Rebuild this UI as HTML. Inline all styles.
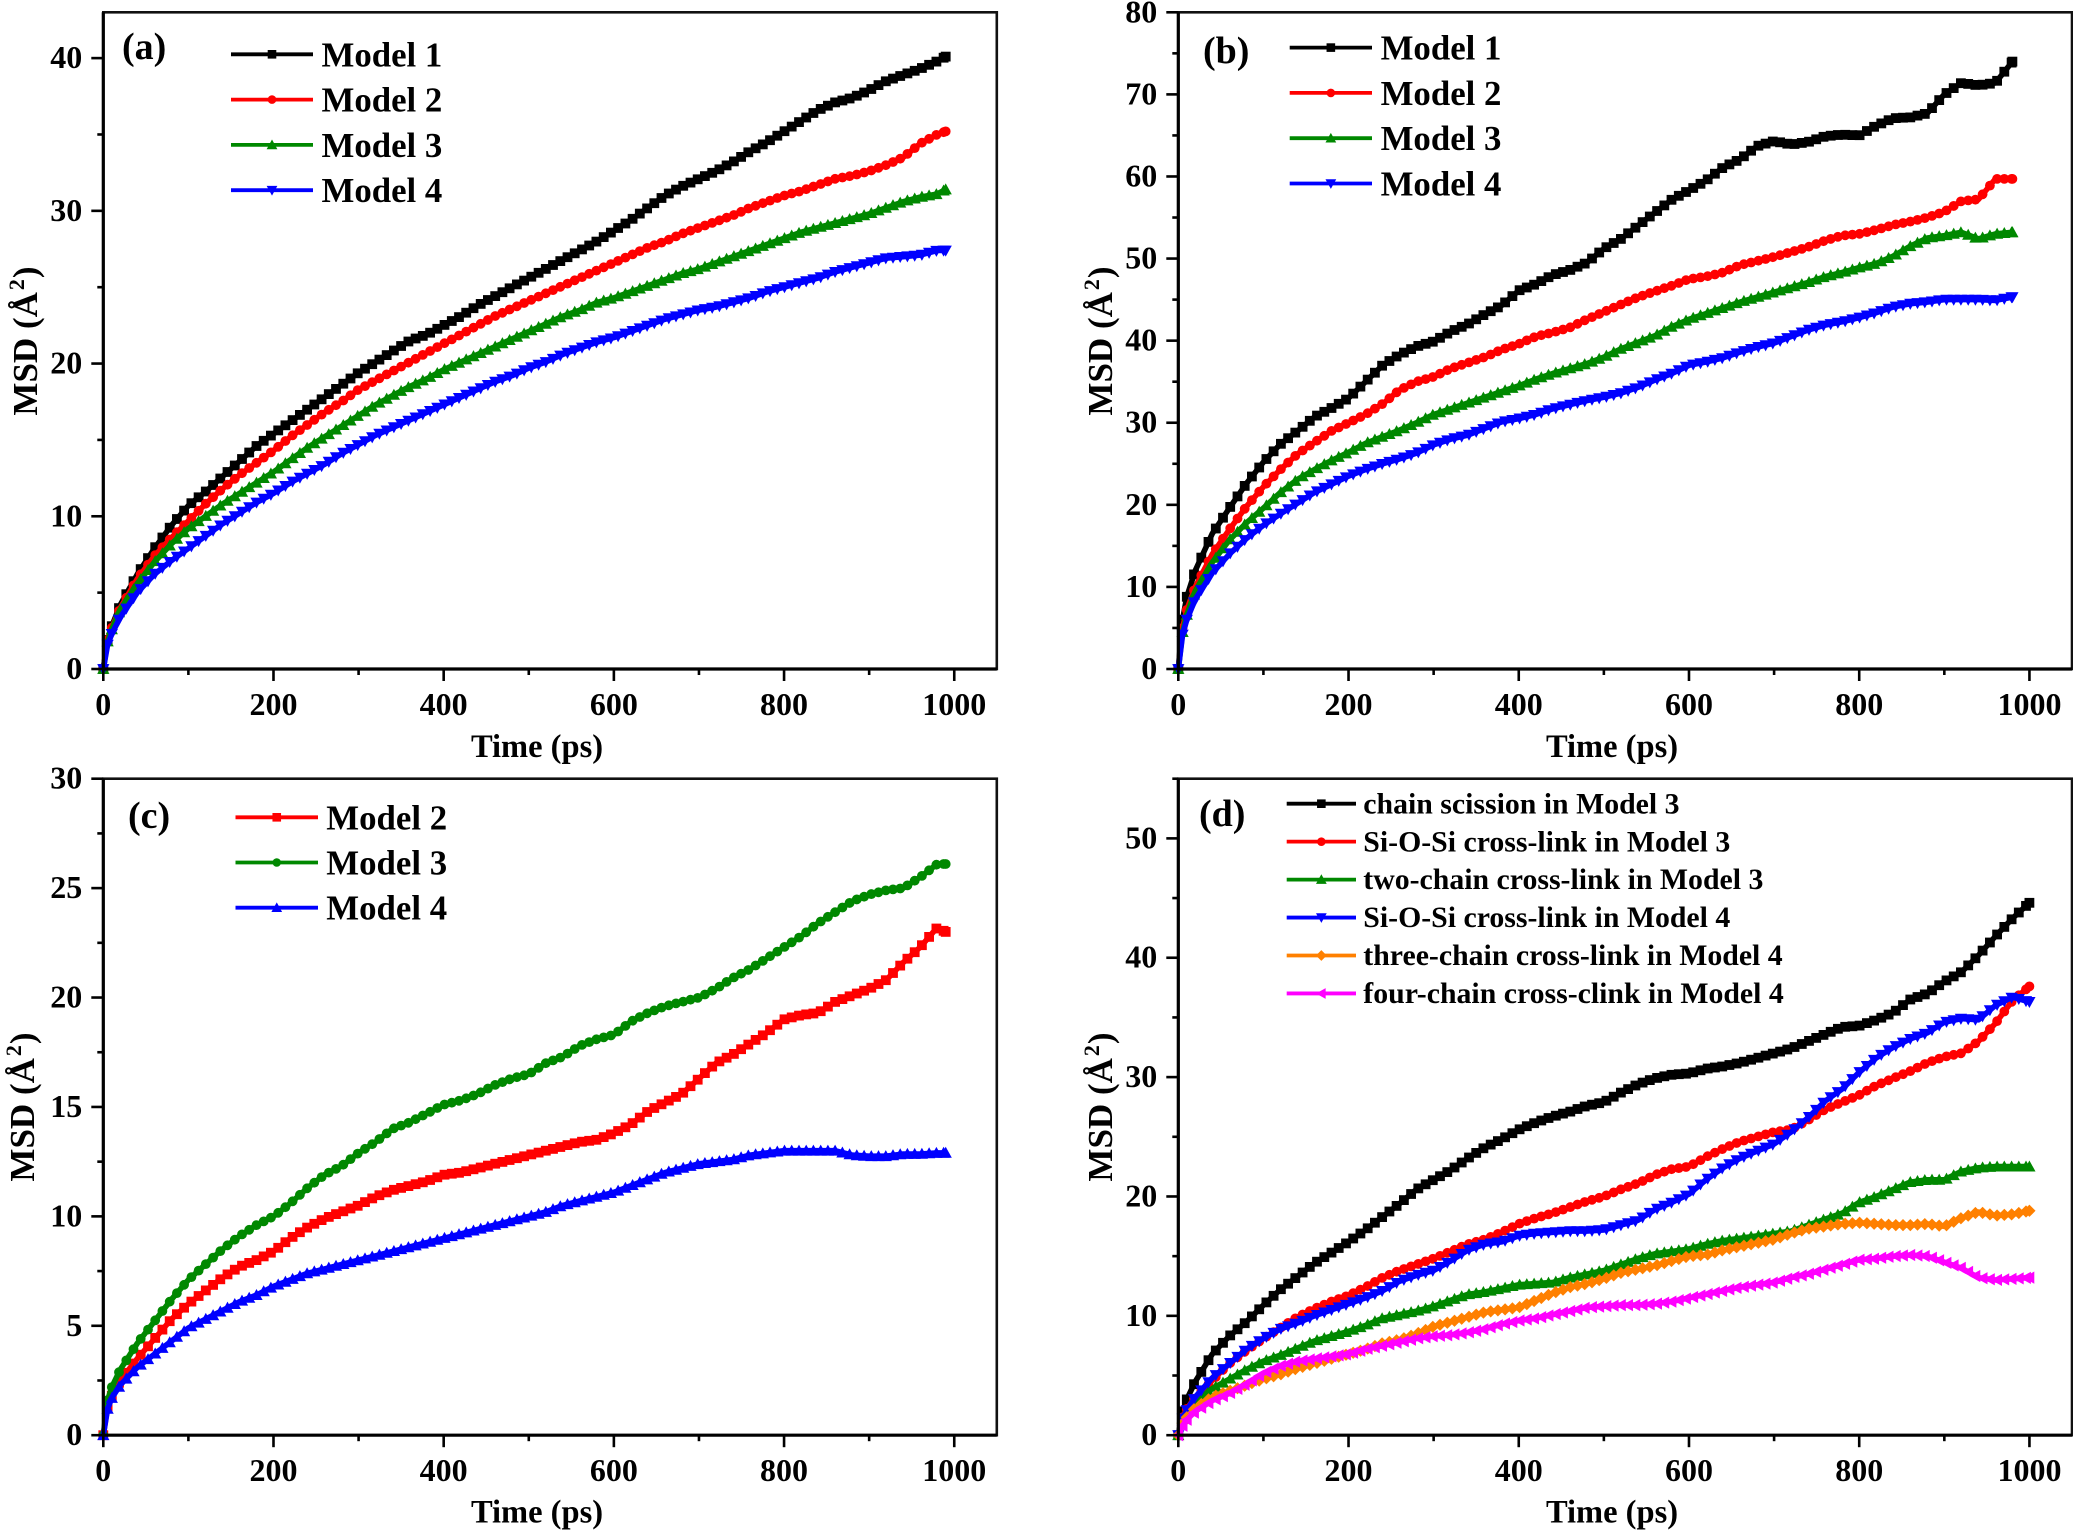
<!DOCTYPE html>
<html lang="en">
<head>
<meta charset="utf-8">
<title>MSD versus time for Models 1-4</title>
<style>
html,body{margin:0;padding:0;background:#fff;}
svg{display:block;}
text{font-family:"Liberation Serif",serif;font-weight:bold;fill:#000;}
</style>
</head>
<body>
<svg id="figure" xmlns="http://www.w3.org/2000/svg" width="2073" height="1531" viewBox="0 0 2073 1531"></svg>
<script>
// ---------- categories (time in ps) ----------
const timesA = [0,5,10,20,40,60,80,100,120,140,160,180,200,220,240,260,280,300,320,340,360,380,400,420,440,460,480,500,520,540,560,580,600,620,640,660,680,700,720,740,760,780,800,820,840,860,880,900,920,940,960,980,990];
const timesB = [0,5,10,20,40,60,80,100,120,140,160,180,200,220,240,260,280,300,320,340,360,380,400,420,440,460,480,500,520,540,560,580,600,620,640,660,680,700,720,740,760,780,800,820,840,860,880,900,920,940,960,980];
const timesC = [0,5,10,20,40,60,80,100,120,140,160,180,200,220,240,260,280,300,320,340,360,380,400,420,440,460,480,500,520,540,560,580,600,620,640,660,680,700,720,740,760,780,800,820,840,860,880,900,920,940,960,980,990];
const timesD = [0,5,10,20,40,60,80,100,120,140,160,180,200,220,240,260,280,300,320,340,360,380,400,420,440,460,480,500,520,540,560,580,600,620,640,660,680,700,720,740,760,780,800,820,840,860,880,900,920,940,960,980,1000];

// ---------- panel (a) series ----------
const a1 = [0,1.9,2.8,4.2,6.2,7.9,9.4,10.7,11.6,12.6,13.6,14.6,15.4,16.2,17,17.8,18.6,19.4,20.1,20.8,21.5,21.9,22.5,23.1,23.8,24.4,25,25.6,26.2,26.8,27.4,28,28.7,29.4,30.2,31,31.6,32.1,32.6,33.2,33.9,34.5,35.2,35.9,36.6,37.1,37.4,37.9,38.5,38.9,39.3,39.8,40.1];
const a2 = [0,1.9,2.7,4,5.9,7.4,8.6,9.7,10.8,11.8,12.7,13.5,14.3,15.2,16,16.8,17.5,18.3,18.9,19.5,20.1,20.7,21.3,21.9,22.5,23.1,23.6,24.1,24.6,25.1,25.6,26.1,26.6,27.1,27.6,28,28.5,28.9,29.3,29.7,30.2,30.6,31,31.3,31.7,32.1,32.3,32.6,33,33.5,34.4,35,35.2];
const a3 = [0,1.8,2.6,3.9,5.6,7,8.2,9.2,10,10.8,11.5,12.2,12.9,13.7,14.5,15.2,15.9,16.6,17.3,17.9,18.5,19,19.6,20.1,20.6,21.1,21.6,22.1,22.6,23.1,23.5,24,24.3,24.7,25.1,25.5,25.9,26.2,26.6,27,27.4,27.8,28.2,28.6,28.9,29.2,29.5,29.8,30.2,30.6,30.9,31.1,31.4];
const a4 = [0,1.6,2.3,3.4,5,6.2,7.1,7.9,8.7,9.5,10.2,10.9,11.5,12.2,12.8,13.4,14.1,14.7,15.3,15.8,16.3,16.8,17.3,17.8,18.3,18.8,19.2,19.7,20.1,20.6,21,21.4,21.7,22.1,22.5,22.9,23.2,23.5,23.7,24,24.3,24.7,25,25.3,25.6,26,26.3,26.6,26.9,27,27.1,27.4,27.4];

// ---------- panel (b) series ----------
const b1 = [0,6,8.8,12,16.5,19.6,22.6,25.2,27.4,29,30.7,31.8,33,35,37,38.3,39.3,39.9,41.1,42,43.2,44.3,46.1,46.9,48,48.6,49.5,51.2,52.4,54,55.6,57.2,58.3,59.5,61.1,62.1,63.7,64.3,63.9,64.2,64.9,65.1,65,66.2,67.1,67.2,67.7,70,71.4,71.1,71.4,74];
const b2 = [0,5,7.2,10,14,17,19.8,22.2,24.3,26.2,27.6,29,30,31,32.3,34,35,35.6,36.6,37.3,38,38.9,39.6,40.5,41,41.6,42.6,43.5,44.4,45.3,46,46.7,47.5,47.8,48.3,49.2,49.7,50.2,50.8,51.4,52.2,52.8,53,53.5,54.1,54.5,55,55.7,57,57.2,59.7,59.7];
const b3 = [0,4.5,6.6,9.5,13,15.7,17.8,19.6,21.5,23.1,24.3,25.4,26.4,27.5,28.3,29.1,30,31,31.7,32.4,33.1,33.8,34.5,35.3,36,36.6,37.2,38,39,39.8,40.6,41.7,42.6,43.3,44,44.7,45.3,45.9,46.5,47.1,47.8,48.3,48.9,49.4,50.3,51.5,52.5,52.8,53.2,52.4,53,53.2];
const b4 = [0,4.2,6,8.5,11.7,14,15.9,17.5,18.9,20.2,21.5,22.5,23.5,24.3,25,25.6,26.3,27.3,28,28.5,29.3,30.1,30.5,31,31.7,32.2,32.7,33.1,33.6,34.3,35.2,36,37,37.4,37.9,38.6,39.2,39.7,40.5,41.3,41.9,42.3,42.8,43.4,44.1,44.5,44.7,45,45,45,44.9,45.3];

// ---------- panel (c) series ----------
const c2 = [0,1.3,1.8,2.5,3.5,4.4,5.3,6,6.6,7.2,7.7,8,8.4,9,9.5,9.9,10.2,10.5,10.9,11.2,11.4,11.6,11.9,12,12.2,12.4,12.6,12.8,13,13.2,13.4,13.5,13.8,14.2,14.8,15.2,15.6,16.3,17,17.4,17.9,18.4,19,19.2,19.3,19.8,20.1,20.4,20.8,21.6,22.3,23.2,23];
const c3 = [0,1.6,2.2,3,4.2,5.2,6.2,7.1,7.8,8.5,9.1,9.6,10,10.6,11.3,11.9,12.3,12.9,13.4,14,14.3,14.7,15.1,15.3,15.6,16,16.3,16.5,17,17.3,17.8,18.1,18.3,18.9,19.3,19.6,19.8,20,20.4,20.9,21.3,21.8,22.3,22.8,23.4,23.9,24.4,24.7,24.9,25,25.5,26.1,26.1];
const c4 = [0,1.2,1.7,2.3,3.1,3.7,4.3,4.9,5.3,5.7,6.1,6.4,6.8,7.1,7.4,7.6,7.8,8,8.2,8.4,8.6,8.8,9,9.2,9.4,9.6,9.8,10,10.2,10.5,10.7,10.9,11.1,11.4,11.7,12,12.2,12.4,12.5,12.6,12.8,12.9,13,13,13,13,12.8,12.75,12.75,12.85,12.85,12.9,12.9];

// ---------- panel (d) series ----------
const d1 = [0,2,3,4.5,6.8,8.3,9.5,10.9,12.2,13.3,14.4,15.3,16.2,17.2,18.3,19.4,20.6,21.4,22.2,23.2,24.1,24.8,25.6,26.2,26.7,27.1,27.6,27.9,28.7,29.4,29.9,30.2,30.3,30.7,30.9,31.2,31.6,32,32.4,33,33.6,34.2,34.3,34.8,35.4,36.5,37,38,38.8,40.2,41.8,43.3,44.6];
const d2 = [0,1.5,2.2,3.2,4.6,6,7.1,8.1,9,9.9,10.6,11.2,11.7,12.4,13.2,13.8,14.3,14.8,15.4,16,16.4,17,17.7,18.2,18.6,19.1,19.6,20,20.6,21.1,21.8,22.3,22.5,23.3,24,24.6,25,25.4,25.6,26.4,27.3,27.9,28.5,29.3,29.9,30.5,31.2,31.7,32,33,34.5,36.4,37.6];
const d3 = [0,1.4,2,2.8,3.9,4.7,5.5,6.2,6.7,7.3,7.9,8.3,8.7,9.2,9.8,10.1,10.4,10.8,11.3,11.8,12,12.3,12.6,12.7,12.8,13.2,13.5,13.8,14.3,14.8,15.2,15.4,15.6,16,16.3,16.5,16.7,16.9,17.1,17.6,18.1,18.6,19.5,20,20.6,21.2,21.4,21.4,22.1,22.4,22.5,22.5,22.5];
const d4 = [0,1.4,2.1,3.2,4.8,6,7.2,8.1,8.9,9.4,10,10.5,11,11.5,12.1,12.9,13.4,13.8,14.6,15.5,16,16.2,16.7,16.9,17,17.1,17.1,17.2,17.6,18,18.9,19.5,20.2,21.4,22.4,23.2,23.8,24.4,25.4,26.6,28,29,30.4,31.6,32.5,33.2,33.7,34.6,34.9,34.8,36,36.7,36.3];
const d5 = [0,1,1.5,2.3,3.2,3.7,4.2,4.7,5.1,5.6,6,6.4,6.8,7.2,7.7,8,8.5,9.1,9.5,9.9,10.3,10.5,10.7,11.3,11.9,12.4,12.7,13.1,13.6,13.9,14.2,14.6,15,15.1,15.5,15.8,16.1,16.4,16.9,17.3,17.5,17.7,17.8,17.7,17.6,17.6,17.7,17.5,18.2,18.7,18.4,18.5,18.8];
const d6 = [0,0.8,1.3,2,2.9,3.5,4.3,5.2,5.8,6.2,6.4,6.6,6.8,7.2,7.5,7.8,8.1,8.3,8.4,8.6,8.9,9.3,9.6,9.8,10.1,10.4,10.7,10.8,10.9,10.9,11,11.2,11.5,11.8,12.1,12.4,12.6,12.8,13.2,13.5,13.9,14.3,14.7,14.8,15,15.1,15,14.5,14,13.2,13,13.1,13.2];

// ---------- tick labels ----------
const xTicks = [0,200,400,600,800,1000];
const yTicksA = [0,10,20,30,40];
const yTicksB = [0,10,20,30,40,50,60,70,80];
const yTicksC = [0,5,10,15,20,25,30];
const yTicksD = [0,10,20,30,40,50];

// ---------- legend names ----------
const namesA = ['Model 1','Model 2','Model 3','Model 4'];
const namesC = ['Model 2','Model 3','Model 4'];
const namesD = ['chain scission in Model 3','Si-O-Si cross-link in Model 3','two-chain cross-link in Model 3','Si-O-Si cross-link in Model 4','three-chain cross-link in Model 4','four-chain cross-clink in Model 4'];

const BLACK='#000000',RED='#ff0000',GREEN='#008800',BLUE='#0000ff',ORANGE='#ff8000',MAGENTA='#ff00ff';
const svg=document.getElementById('figure');
const NS='http://www.w3.org/2000/svg';

function make(tag,parent,name,attrs,txt){
  const el=document.createElementNS(NS,tag);
  
  
  for(const k in attrs){el.setAttribute(k,attrs[k]);}
  if(txt!==undefined){el.textContent=txt;}
  parent.appendChild(el);
  return el;
}
function markerPath(kind,x,y,r){
  const t=r*1.25;
  switch(kind){
    case 'square':return `M${x-r} ${y-r}H${x+r}V${y+r}H${x-r}Z`;
    case 'circle':return `M${x-r} ${y}A${r} ${r} 0 1 0 ${x+r} ${y}A${r} ${r} 0 1 0 ${x-r} ${y}Z`;
    case 'up':return `M${x} ${y-t}L${x+t} ${y+r}H${x-t}Z`;
    case 'down':return `M${x} ${y+t}L${x+t} ${y-r}H${x-t}Z`;
    case 'diamond':return `M${x} ${y-t}L${x+t} ${y}L${x} ${y+t}L${x-t} ${y}Z`;
    case 'left':return `M${x-t} ${y}L${x+r} ${y-t}V${y+t}Z`;
  }
}
function valueAt(times,vals,t){
  for(let i=1;i<times.length;i++){
    if(t<=times[i]){
      const f=(t-times[i-1])/(times[i]-times[i-1]);
      return vals[i-1]+f*(vals[i]-vals[i-1]);
    }
  }
  return vals[vals.length-1];
}
function drawPanel(p){
  const g=make('g',svg,'panel-'+p.id,{});
  const sx=v=>p.x0+(v/1050)*(p.x1-p.x0);
  const sy=v=>p.yBottom-(v/p.yMax)*(p.yBottom-p.yTop);
  // series
  p.series.forEach((s,si)=>{
    const sg=make('g',g,'series-'+p.names[si].toLowerCase().replace(/[^a-z0-9]+/g,'-'),{});
    const pts=p.times.map((t,i)=>sx(t).toFixed(1)+','+sy(s.v[i]).toFixed(1)).join(' ');
    make('polyline',sg,'series-line',{points:pts,fill:'none',stroke:s.c,'stroke-width':5.6,'stroke-linejoin':'round'});
    const last=p.times[p.times.length-1];
    const marks=[0,5];
    for(let t=10;t<=last;t+=8.5){marks.push(t);}
    marks.push(last);
    marks.forEach(t=>{
      const v=valueAt(p.times,s.v,t);
      make('path',sg,'series-point',{d:markerPath(s.m,+sx(t).toFixed(1),+sy(v).toFixed(1),4.9),fill:s.c});
    });
  });
  // frame
  make('rect',g,'plot-frame',{x:p.x0,y:p.yTop,width:p.x1-p.x0,height:p.yBottom-p.yTop,fill:'none',stroke:'#111','stroke-width':2.6});
  make('line',g,'x-axis',{x1:p.x0,x2:p.x1,y1:p.yBottom,y2:p.yBottom,stroke:'#000','stroke-width':3.2});
  make('line',g,'y-axis',{x1:p.x0,x2:p.x0,y1:p.yTop,y2:p.yBottom,stroke:'#000','stroke-width':3.2});
  // x ticks
  for(let i=0;i<=10;i++){
    const v=i*100,len=i%2?6:12;
    make('line',g,'x-tick',{x1:sx(v),x2:sx(v),y1:p.yBottom,y2:p.yBottom+len,stroke:'#000','stroke-width':2.6});
  }
  xTicks.forEach(v=>{
    make('text',g,'x-tick-label',{x:sx(v),y:p.yBottom+46,'text-anchor':'middle','font-size':32},String(v));
  });
  // y ticks
  const step=p.yTicks[1]-p.yTicks[0];
  for(let v=0;v<=p.yMax+1e-6;v+=step/2){
    const major=Math.abs(v/step-Math.round(v/step))<1e-6;
    make('line',g,'y-tick',{x1:p.x0-(major?12:6),x2:p.x0,y1:sy(v),y2:sy(v),stroke:'#000','stroke-width':2.6});
  }
  p.yTicks.forEach(v=>{
    make('text',g,'y-tick-label',{x:p.x0-21,y:sy(v)+10,'text-anchor':'end','font-size':32},String(v));
  });
  // titles
  make('text',g,'x-axis-title',{x:p.xTitleX,y:p.xTitleY,'text-anchor':'middle','font-size':32.5},'Time (ps)');
  const yt=make('text',g,'y-axis-title',{transform:`translate(${p.yTitleX},${p.yTitleY}) rotate(-90)`,'text-anchor':'middle','font-size':35},'MSD (Å');
  make('tspan',yt,'y-axis-title-superscript',{dx:2,dy:-13,'font-size':22},'2');
  make('tspan',yt,'y-axis-title-close',{dy:13,dx:1},')');
  make('text',g,'panel-label',{x:p.labelX,y:p.labelY,'font-size':38},p.label);
  // legend
  const lg=make('g',g,'legend',{});
  p.names.forEach((n,i)=>{
    const y=p.lgY+i*p.lgStep,s=p.series[i];
    const e=make('g',lg,'legend-entry',{});
    make('line',e,'legend-line',{x1:p.lgX1,x2:p.lgX2,y1:y,y2:y,stroke:s.c,'stroke-width':3.8});
    make('path',e,'legend-marker',{d:markerPath(s.m,(p.lgX1+p.lgX2)/2,y,4.3),fill:s.c});
    make('text',e,'legend-label',{x:p.lgTextX,y:y+p.lgBase,'font-size':p.lgFont},n);
  });
}

drawPanel({id:'a',label:'(a)',times:timesA,names:namesA,yMax:43,yTicks:yTicksA,
  x0:103.3,x1:996.8,yTop:12.3,yBottom:669,
  xTitleX:537,xTitleY:757,yTitleX:37,yTitleY:341,labelX:122,labelY:59,
  lgX1:231,lgX2:313,lgY:54.3,lgStep:45.3,lgTextX:321.5,lgBase:12,lgFont:34.8,
  series:[{v:a1,c:BLACK,m:'square'},{v:a2,c:RED,m:'circle'},{v:a3,c:GREEN,m:'up'},{v:a4,c:BLUE,m:'down'}]});
drawPanel({id:'b',label:'(b)',times:timesB,names:namesA,yMax:80,yTicks:yTicksB,
  x0:1178.3,x1:2072,yTop:12.3,yBottom:669,
  xTitleX:1612,xTitleY:757,yTitleX:1112,yTitleY:341,labelX:1203,labelY:63,
  lgX1:1289.7,lgX2:1372,lgY:47.6,lgStep:45.3,lgTextX:1380.6,lgBase:12,lgFont:34.8,
  series:[{v:b1,c:BLACK,m:'square'},{v:b2,c:RED,m:'circle'},{v:b3,c:GREEN,m:'up'},{v:b4,c:BLUE,m:'down'}]});
drawPanel({id:'c',label:'(c)',times:timesC,names:namesC,yMax:30,yTicks:yTicksC,
  x0:103.3,x1:996.8,yTop:778.7,yBottom:1435.2,
  xTitleX:537,xTitleY:1522.5,yTitleX:34,yTitleY:1107,labelX:128,labelY:828,
  lgX1:235.5,lgX2:318,lgY:817.3,lgStep:45.2,lgTextX:326.3,lgBase:12,lgFont:34.8,
  series:[{v:c2,c:RED,m:'square'},{v:c3,c:GREEN,m:'circle'},{v:c4,c:BLUE,m:'up'}]});
drawPanel({id:'d',label:'(d)',times:timesD,names:namesD,yMax:55,yTicks:yTicksD,
  x0:1178.3,x1:2072,yTop:778.7,yBottom:1435.2,
  xTitleX:1612,xTitleY:1522.5,yTitleX:1112,yTitleY:1107,labelX:1199,labelY:826,
  lgX1:1286.7,lgX2:1356,lgY:803.7,lgStep:37.95,lgTextX:1363.3,lgBase:9.6,lgFont:29.8,
  series:[{v:d1,c:BLACK,m:'square'},{v:d2,c:RED,m:'circle'},{v:d3,c:GREEN,m:'up'},{v:d4,c:BLUE,m:'down'},{v:d5,c:ORANGE,m:'diamond'},{v:d6,c:MAGENTA,m:'left'}]});
</script>
</body>
</html>
